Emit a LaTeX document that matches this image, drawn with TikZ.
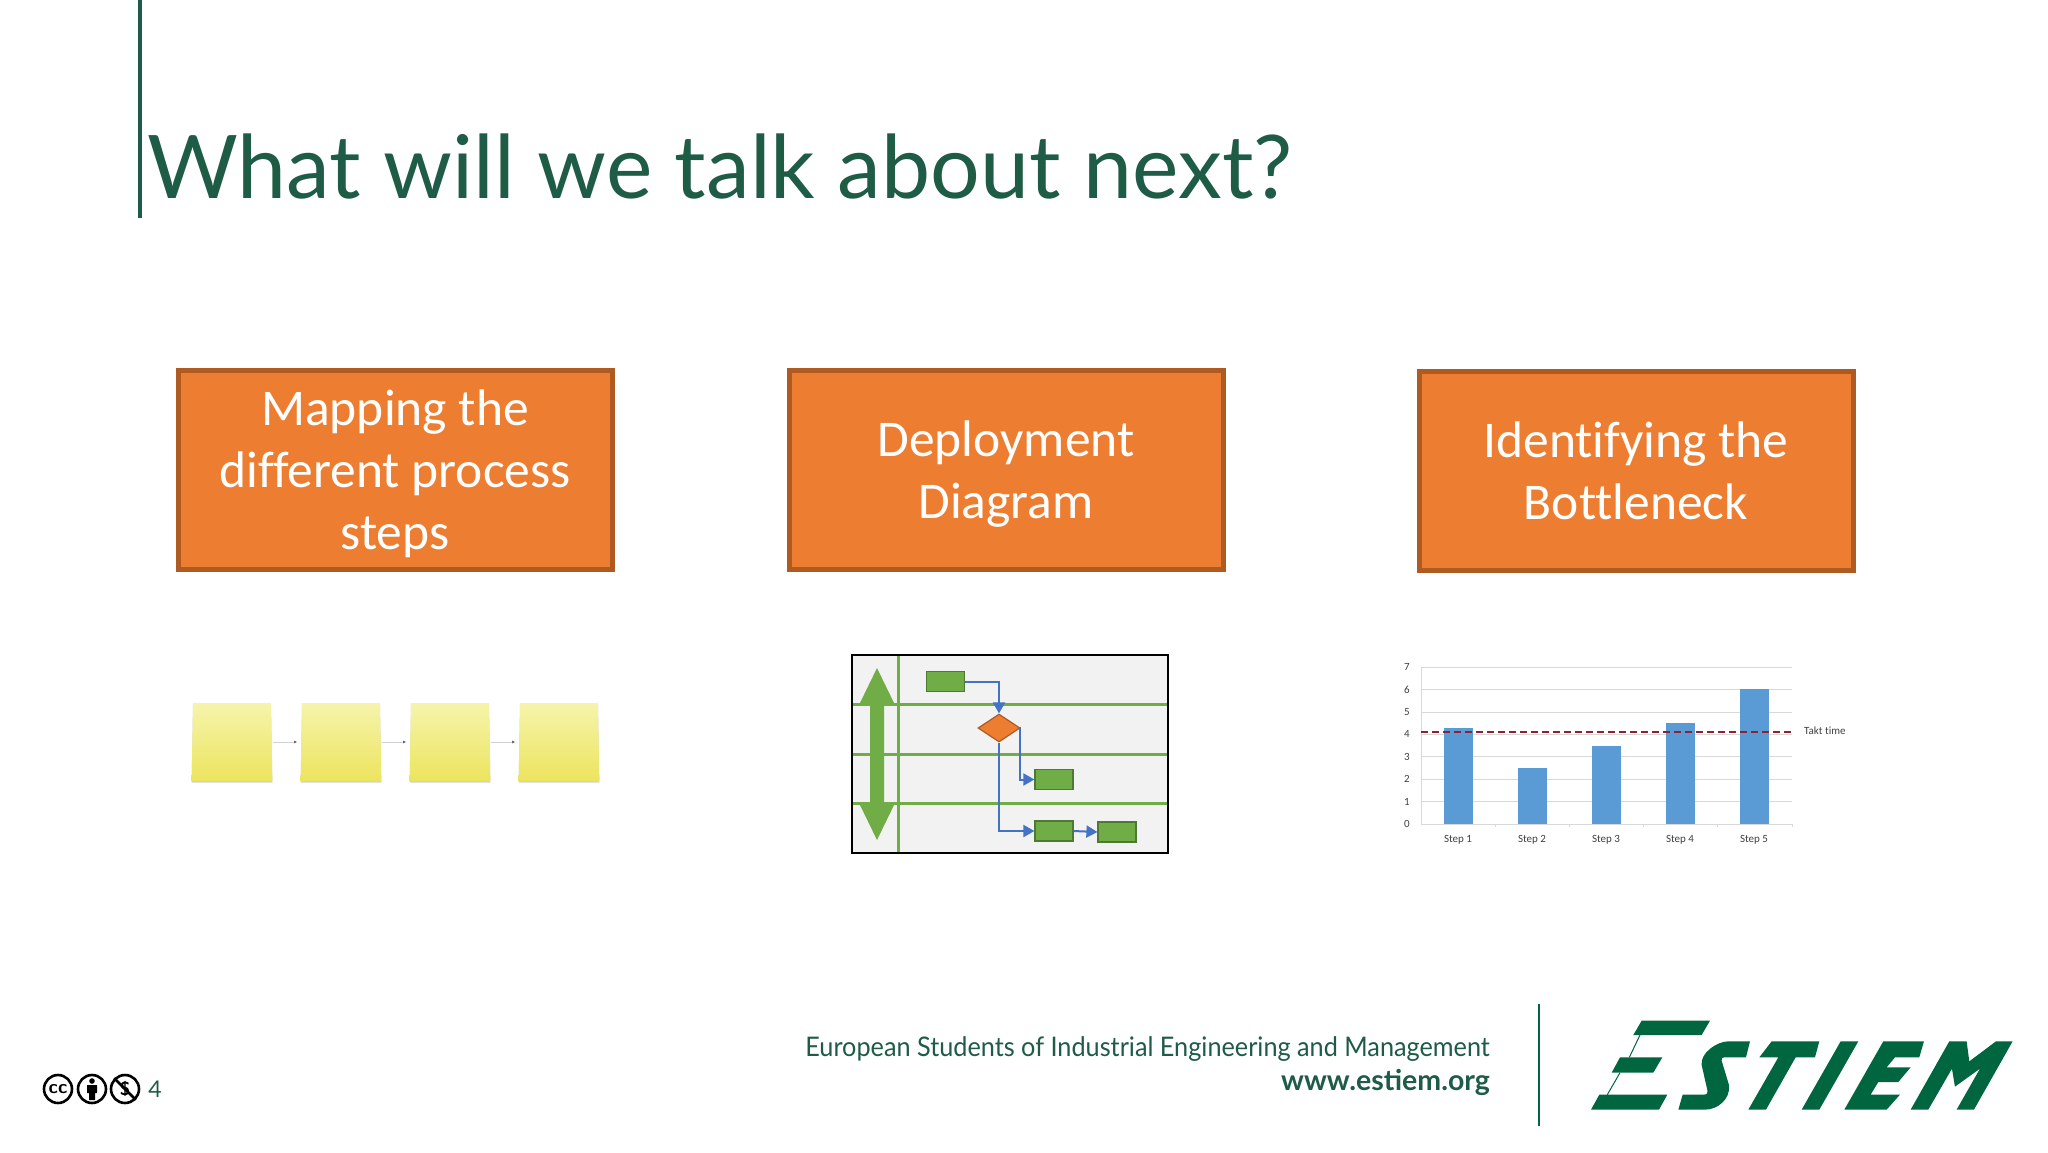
\documentclass[tikz,border=0pt]{standalone}
\usepackage{fontspec}
\setmainfont[Ligatures=NoCommon]{Carlito}
\newfontfamily\titlefont{Lato}
\newfontfamily\footfont[FakeStretch=0.935]{Lato}
\usetikzlibrary{shapes.geometric,arrows.meta,shadows}
\definecolor{estiemgreen}{HTML}{006640}
\definecolor{titlegreen}{HTML}{1F5C45}
\definecolor{boxorange}{HTML}{ED7D31}
\definecolor{boxedge}{HTML}{AE5A21}
\definecolor{laneedge}{HTML}{70AD47}
\definecolor{flowblue}{HTML}{4472C4}
\definecolor{barblue}{HTML}{5B9BD5}
\definecolor{stickytop}{HTML}{F6F4AC}
\definecolor{stickybot}{HTML}{ECE45E}
\definecolor{taktred}{HTML}{8B2335}
\tikzset{topicbox/.style={rectangle,draw=boxedge,fill=boxorange,line width=5pt,minimum width=434pt,minimum height=199pt,inner sep=0pt,align=center,text=white,text depth=0pt,font=\fontsize{51.5}{62}\selectfont},
sticky/.style={trapezium,trapezium left angle=89,trapezium right angle=89,minimum width=78pt,minimum height=78pt,inner sep=1pt,top color=stickytop,bottom color=stickybot,drop shadow={shadow xshift=0pt,shadow yshift=-1.5pt,opacity=.35,fill=gray}},
stickyflow/.style={draw=black!18,line width=.8pt,shorten >=4pt,shorten <=1pt,-{Latex[length=3pt,width=3pt,color=black!60]}},
flowbox/.style={rectangle,draw=laneedge!70!black,fill=laneedge,line width=1.2pt,minimum width=38pt,minimum height=20pt,inner sep=0pt},
lane/.style={draw=laneedge,line width=3pt},
flow/.style={draw=flowblue,line width=2pt,-{Triangle[length=11pt,width=12pt]}},
grid/.style={draw=black!15,line width=.8pt},
bar/.style={fill=barblue},
axlab/.style={inner sep=0pt,text=black!75,font=\fontsize{11}{12}\selectfont},
ccring/.style={circle,draw=black,line width=2.6pt,minimum size=28pt,inner sep=0pt},
logo/.style={fill=estiemgreen}}
\begin{document}
\begin{tikzpicture}[x=1pt,y=-1pt]
\useasboundingbox[fill=white] (0,0) rectangle (2048,1152);
% title
\draw[titlegreen,line width=3.5pt] (140,0) -- (140,218);
\node[anchor=base west,inner sep=0pt,text=titlegreen,font=\titlefont\fontsize{87.8}{100}\selectfont] (title) at (147,198) {What will we talk about next?};
% topics
\node[topicbox] (mapping) at (395,470) {Mapping the\\different process\\steps};
\node[topicbox] (deploy) at (1006,470) {Deployment\\Diagram};
\node[topicbox] (neck) at (1636,471) {Identifying the\\Bottleneck};
% sticky notes
\node[sticky] (s1) at (232,742) {};
\node[sticky] (s2) at (341,742) {};
\node[sticky] (s3) at (450,742) {};
\node[sticky] (s4) at (559,742) {};
\draw[stickyflow] (s1) -- (s2);
\draw[stickyflow] (s2) -- (s3);
\draw[stickyflow] (s3) -- (s4);
% deployment sketch
\fill[black!5] (852,655) rectangle (1168,853);
\draw[lane] (898,655) -- (898,853);
\draw[lane] (852,704) -- (1168,704) (852,754) -- (1168,754) (852,803) -- (1168,803);
\fill[laneedge] (877,668) -- (895,705) -- (884,705) -- (884,803) -- (895,803) -- (877,840) -- (859,803) -- (870,803) -- (870,705) -- (859,705) -- cycle;
\draw[black,line width=2.8pt] (852,655) rectangle (1168,853);
\node[flowbox] (f1) at (945.5,681.5) {};
\node[flowbox] (f2) at (1054,779.5) {};
\node[flowbox] (f3) at (1054,831) {};
\node[flowbox] (f4) at (1117,832) {};
\node[diamond,draw=boxedge,fill=boxorange,line width=1.2pt,minimum width=42pt,minimum height=28pt,inner sep=0pt] (d) at (999,728) {};
\draw[flow] (f1.east) -| (d.north);
\draw[flow] (d.east) -- (1020,728) |- (f2.west);
\draw[flow] (d.south) |- (f3.west);
\draw[flow] (f3.east) -- (f4.west);
% chart
\draw[grid] (1421,667) -- (1792,667) (1421,689.4) -- (1792,689.4) (1421,711.9) -- (1792,711.9) (1421,734.3) -- (1792,734.3) (1421,756.7) -- (1792,756.7) (1421,779.1) -- (1792,779.1) (1421,801.6) -- (1792,801.6) (1421,824) -- (1792,824) (1421,667) -- (1421,824);
\draw[grid] (1495,824) -- (1495,827) (1569,824) -- (1569,827) (1643,824) -- (1643,827) (1717,824) -- (1717,827) (1792,824) -- (1792,827);
\fill[bar] (1443.5,728) rectangle (1472.5,824);
\fill[bar] (1517.5,768) rectangle (1546.5,824);
\fill[bar] (1591.5,745.5) rectangle (1620.5,824);
\fill[bar] (1665.5,723) rectangle (1694.5,824);
\fill[bar] (1739.5,689.4) rectangle (1768.5,824);
\draw[taktred,line width=1.5pt,dash pattern=on 7pt off 4pt] (1421,732) -- (1792,732);
\node[axlab] (y0) at (1407,824) {0};
\node[axlab] (y1) at (1407,801.6) {1};
\node[axlab] (y2) at (1407,779.1) {2};
\node[axlab] (y3) at (1407,756.7) {3};
\node[axlab] (y4) at (1407,734.3) {4};
\node[axlab] (y5) at (1407,711.9) {5};
\node[axlab] (y6) at (1407,689.4) {6};
\node[axlab] (y7) at (1407,667) {7};
\node[axlab] (b1) at (1458,840) {Step 1};
\node[axlab] (b2) at (1532,840) {Step 2};
\node[axlab] (b3) at (1606,840) {Step 3};
\node[axlab] (b4) at (1680,840) {Step 4};
\node[axlab] (b5) at (1754,840) {Step 5};
\node[axlab,anchor=west] (takt) at (1804,731) {Takt time};
% licence icons and page number
\node[ccring,font=\sffamily\bfseries\fontsize{19}{19}\selectfont] (cc) at (58,1089) {cc};
\node[ccring] (by) at (92,1089) {};
\node[ccring,font=\sffamily\bfseries\fontsize{19}{19}\selectfont] (nc) at (125,1089) {\$};
\fill (92,1081) circle (2.8pt);
\fill (87,1085) rectangle (97,1093) (89,1093) rectangle (95,1100);
\draw[line width=2.6pt] (nc.north west) -- (nc.south east);
\node[text=titlegreen,inner sep=0pt,font=\titlefont\fontsize{23}{25}\selectfont] (page) at (155,1089) {4};
% footer
\node[anchor=base east,inner sep=0pt,text=titlegreen,font=\footfont\fontsize{27}{30}\selectfont] (org) at (1490,1056) {European Students of Industrial Engineering and Management};
\node[anchor=base east,inner sep=0pt,text=titlegreen,font=\titlefont\bfseries\fontsize{28.5}{30}\selectfont] (web) at (1490,1090) {www.estiem.org};
\draw[estiemgreen,line width=2.5pt] (1539,1004) -- (1539,1126);
\begin{scope}[shift={(1520,990)},x=.3333pt,y=-.3333pt]
\fill[logo] (365,92) -- (570,92) -- (545,135) -- (340,135) -- cycle;
\fill[logo] (300,202) -- (427,202) -- (400,248) -- (275,248) -- cycle;
\fill[logo] (238,314) -- (442,314) -- (417,359) -- (213,359) -- cycle;
\draw[estiemgreen,line width=1pt] (360,135) -- (328,202) (300,248) -- (262,314);
\fill[logo] (690,154) -- (678,202) -- (612,202) .. controls (605,204) .. (605,212) -- (627,285) .. controls (632,330) and (590,359) .. (555,359) -- (475,359) -- (488,314) -- (552,314) .. controls (562,312) .. (562,300) -- (545,225) .. controls (540,190) and (590,154) .. (625,154) -- cycle;
\fill[logo] (755,154) -- (898,154) -- (885,202) -- (827,202) -- (738,359) -- (685,359) -- (775,202) -- (718,202) -- cycle;
\fill[logo] (962,154) -- (1015,154) -- (898,359) -- (845,359) -- cycle;
\fill[logo] (1090,154) -- (1212,154) -- (1198,202) -- (1125,202) -- (1100,232) -- (1172,232) -- (1135,276) -- (1075,276) -- (1052,314) -- (1140,314) -- (1100,359) -- (973,359) -- cycle;
\fill[logo] (1288,154) -- (1340,154) -- (1348,214) -- (1428,154) -- (1478,154) -- (1362,359) -- (1310,359) -- (1380,236) -- (1305,290) -- (1296,236) -- (1225,359) -- (1172,359) -- cycle;
\end{scope}
\end{tikzpicture}
\end{document}
